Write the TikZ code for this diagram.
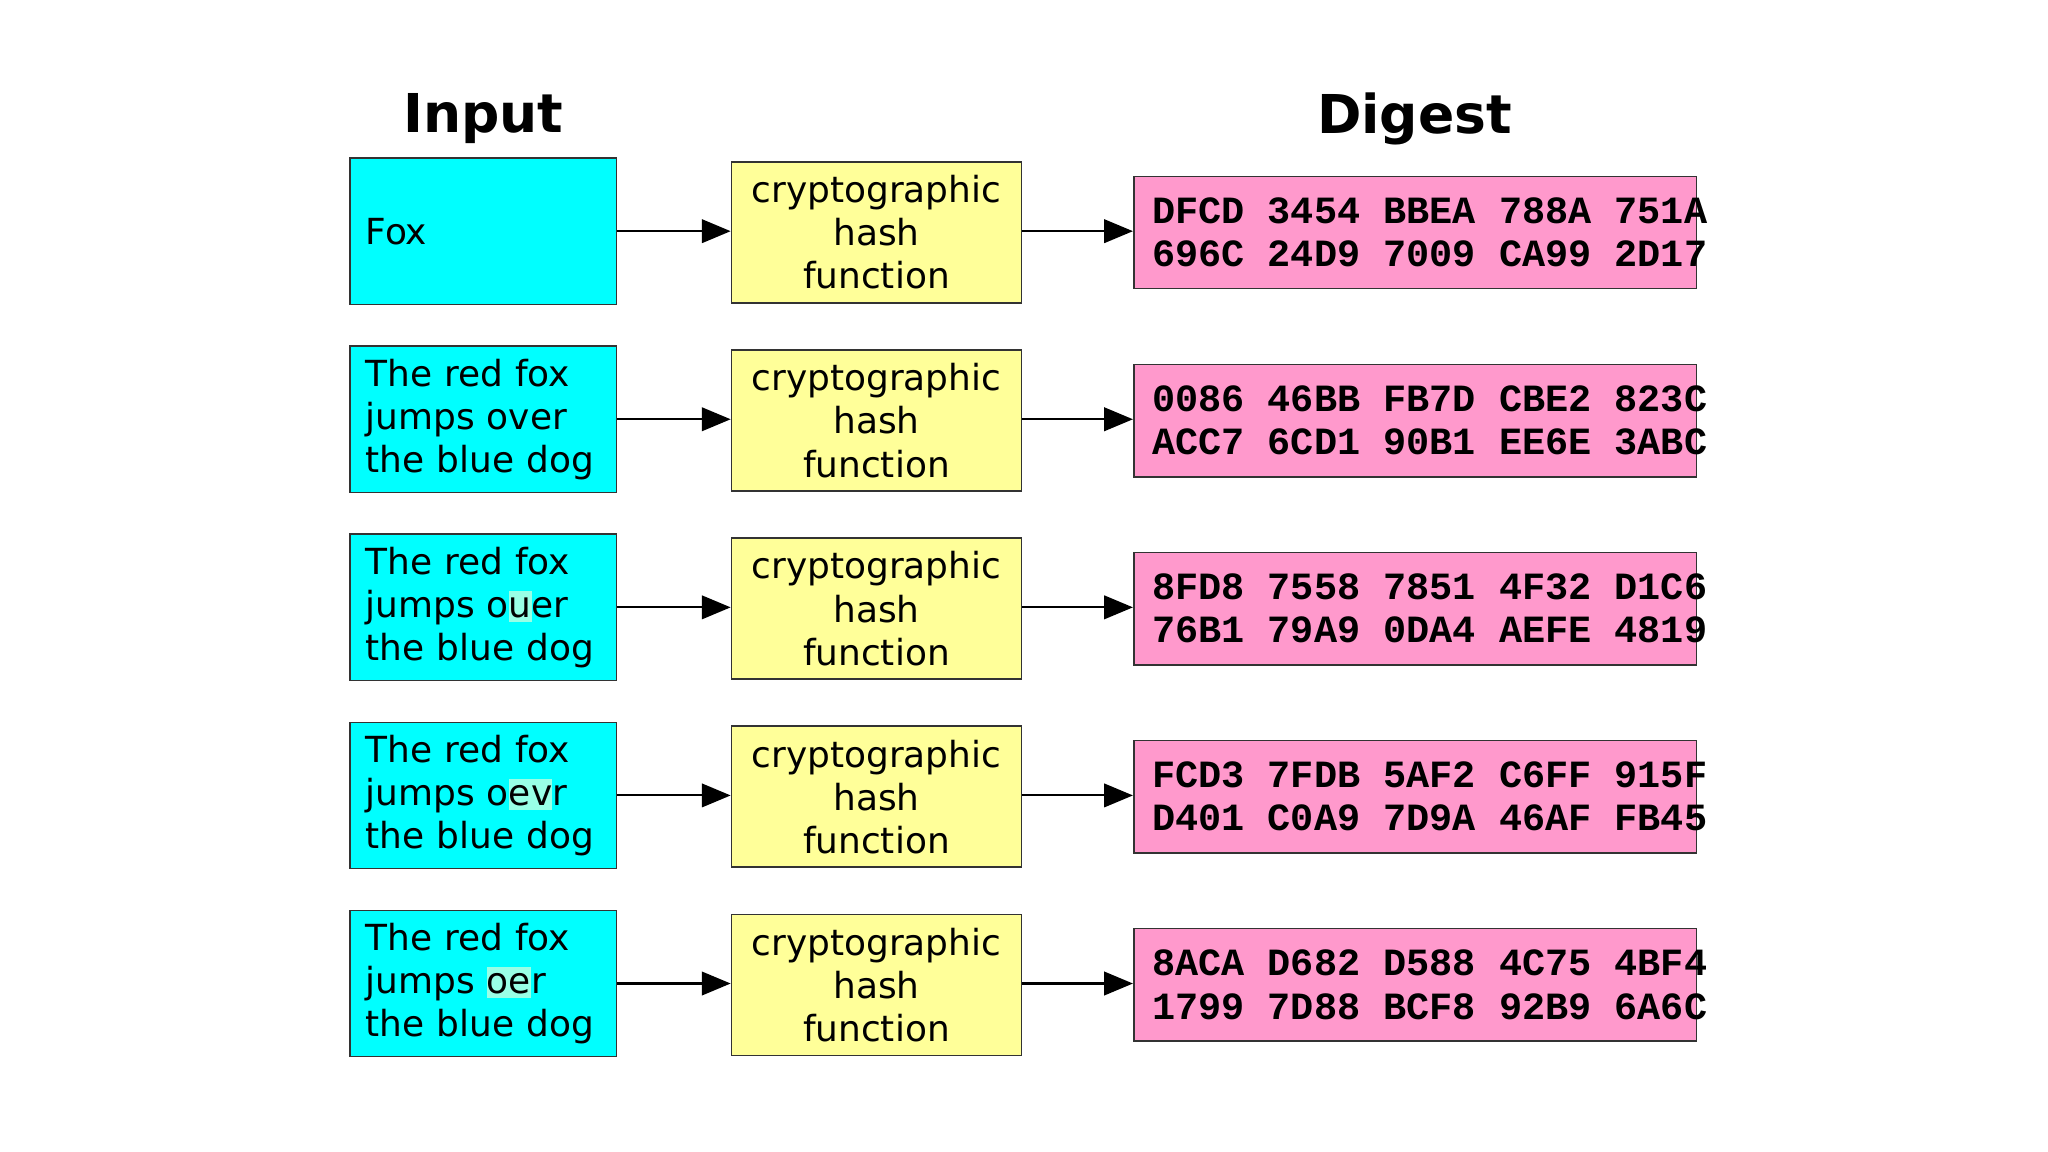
\documentclass[tikz,border=0pt]{standalone}
\usepackage{fontspec}
\setmainfont{DejaVu Sans}
\newfontfamily\monof{Liberation Mono}
\usetikzlibrary{arrows.meta}
\definecolor{cy}{HTML}{00FFFF}
\definecolor{yl}{HTML}{FFFF99}
\definecolor{pk}{HTML}{FF99CC}
\definecolor{hlc}{HTML}{99FFE6}
\newcommand{\myhl}[1]{{\setlength\fboxsep{0pt}\colorbox{hlc}{\rule[-0.12em]{0pt}{0.86em}#1}}}
\begin{document}
\begin{tikzpicture}[x=1pt,y=-1pt,
  inp/.style={draw=black!80,line width=1.2pt,fill=cy,minimum width=204pt,minimum height=112pt,text width=180pt,inner xsep=12pt,inner ysep=3pt,align=left,font=\fontsize{27.5}{33}\selectfont},
  hsh/.style={draw=black!80,line width=1.2pt,fill=yl,minimum width=222pt,minimum height=108pt,inner sep=0pt,align=center,font=\fontsize{27.5}{33}\selectfont},
  dig/.style={draw=black!80,line width=1.2pt,fill=pk,minimum width=431pt,minimum height=86pt,inner sep=0pt},
  dtx/.style={anchor=west,inner sep=0pt,align=left,font=\monof\bfseries\fontsize{29.5}{33}\selectfont},
  arr/.style={line width=1.6pt,-{Triangle[length=22pt,width=18pt]}},
  ttl/.style={font=\bfseries\fontsize{41}{48}\selectfont}]
\useasboundingbox (0,0) rectangle (1568,882);
\node[ttl] (ti) at (370,91) {Input};
\node[ttl] (td) at (1083,91) {Digest};
\foreach \i/\txt/\d in {
 0/{Fox}/{DFCD 3454 BBEA 788A 751A\\696C 24D9 7009 CA99 2D17},
 1/{The red fox\\jumps over\\the blue dog}/{0086 46BB FB7D CBE2 823C\\ACC7 6CD1 90B1 EE6E 3ABC},
 2/{The red fox\\jumps o\myhl{u}er\\the blue dog}/{8FD8 7558 7851 4F32 D1C6\\76B1 79A9 0DA4 AEFE 4819},
 3/{The red fox\\jumps o\myhl{ev}r\\the blue dog}/{FCD3 7FDB 5AF2 C6FF 915F\\D401 C0A9 7D9A 46AF FB45},
 4/{The red fox\\jumps \myhl{oe}r\\the blue dog}/{8ACA D682 D588 4C75 4BF4\\1799 7D88 BCF8 92B9 6A6C}} {
  \pgfmathsetmacro{\yc}{177+144*\i}
  \node[inp] (in\i) at (370,\yc) {\txt};
  \node[hsh] (h\i) at (671,\yc+1) {cryptographic\\hash\\function};
  \node[dig] (d\i) at (1083.5,\yc+1) {};
  \node[dtx] (dt\i) at (882,\yc+1) {\d};
  \draw[arr] (in\i.east) -- (h\i.west |- in\i.east);
  \draw[arr] (h\i.east |- in\i.east) -- (d\i.west |- in\i.east);
}
\end{tikzpicture}
\end{document}
